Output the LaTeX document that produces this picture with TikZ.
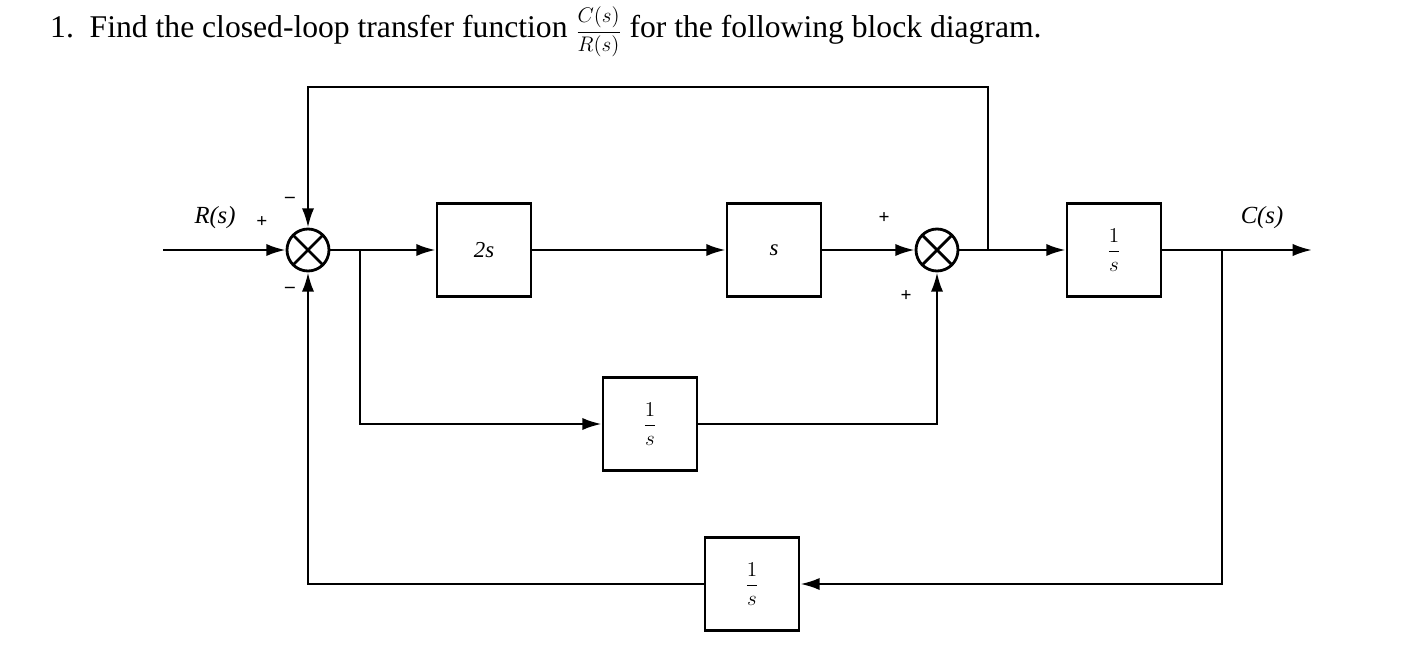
\documentclass[tikz,border=0pt]{standalone}
\usepackage{fontspec}
\setmainfont{Liberation Serif}
\usetikzlibrary{arrows.meta}
\begin{document}
\begin{tikzpicture}[x=0.02cm,y=-0.02cm,
  blk/.style={draw,line width=1.6pt,minimum width=1.88cm,minimum height=1.86cm,inner sep=0pt,font=\fontsize{13}{15}\selectfont\itshape},
  sum/.style={draw,line width=1.6pt,circle,minimum size=0.84cm,inner sep=0pt,path picture={\draw[line width=1.6pt] (path picture bounding box.north west)--(path picture bounding box.south east) (path picture bounding box.north east)--(path picture bounding box.south west);}},
  ar/.style={line width=1.4pt,-{Latex[length=11pt,width=7pt]}},
  sg/.style={font=\fontsize{11}{12}\selectfont\bfseries},
  lab/.style={font=\fontsize{14}{16}\selectfont\itshape}]
\useasboundingbox (0,0) rectangle (1402,648);
\node[anchor=west,font=\fontsize{18}{21}\selectfont] (title) at (44,32) {1.\ \ Find the closed-loop transfer function {\fontsize{13}{15}\selectfont$\displaystyle\frac{C(s)}{R(s)}$} for the following block diagram.};
\node[sum] (s1) at (308,250) {};
\node[sum] (s2) at (937,250) {};
\node[blk] (b2s) at (484,250) {2\textit{s}};
\node[blk] (bs) at (774,250) {\textit{s}};
\node[blk] (bo) at (1114,250) {$\displaystyle\frac{1}{s}$};
\node[blk] (bm) at (650,424) {$\displaystyle\frac{1}{s}$};
\node[blk] (bb) at (752,584) {$\displaystyle\frac{1}{s}$};
\coordinate (in) at (163,250);
\coordinate (out) at (1312,250);
\coordinate (j1) at (360,250);
\coordinate (j2) at (988,250);
\coordinate (j3) at (1222,250);
\node[lab] (R) at (215,218) {R(\textit{s})};
\node[lab] (C) at (1262,218) {C(\textit{s})};
\node[sg] (p1) at (262,222) {+};
\node[sg] (m1) at (290,200) {--};
\node[sg] (m2) at (290,290) {--};
\node[sg] (p2) at (884,218) {+};
\node[sg] (p3) at (906,296) {+};
\draw[ar] (in) -- (s1);
\draw[ar] (s1) -- (b2s);
\draw[ar] (b2s) -- (bs);
\draw[ar] (bs) -- (s2);
\draw[ar] (s2) -- (bo);
\draw[ar] (bo) -- (out);
\draw[ar] (j2) |- (308,87) -- (s1);
\draw[ar] (j1) |- (bm);
\draw[ar] (bm) -| (s2);
\draw[ar] (j3) |- (bb);
\draw[ar] (bb) -| (s1);
\end{tikzpicture}
\end{document}
